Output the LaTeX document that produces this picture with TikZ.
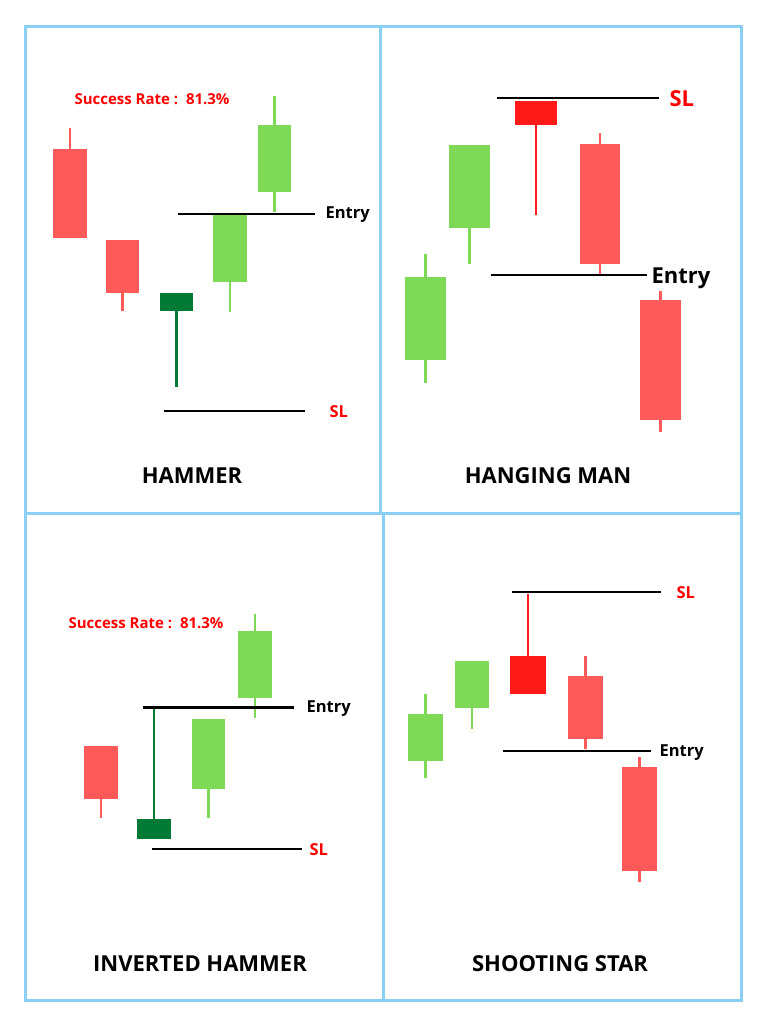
\documentclass[tikz,border=0pt]{standalone}
\usepackage{fontspec}
\setmainfont{Open Sans}
\definecolor{cred}{HTML}{FF5A5A}
\definecolor{pred}{HTML}{FF1A1A}
\definecolor{cgreen}{HTML}{7ED957}
\definecolor{dgreen}{HTML}{007A35}
\definecolor{bord}{HTML}{8CCFF5}
\tikzset{
  title/.style={font=\bfseries\fontsize{22}{26}\selectfont},
  lab/.style={font=\bfseries\fontsize{16.5}{19}\selectfont},
  biglab/.style={font=\bfseries\fontsize{22}{26}\selectfont},
  slab/.style={font=\bfseries\fontsize{15}{17}\selectfont, text=red},
}
% candle: x1,x2,ytop,ybot,wick top,wick bot,color
\newcommand{\cdl}[7]{%
  \draw[#7, line width=2.5pt] ({(#1+#2)/2},#5) -- ({(#1+#2)/2},#6);
  \fill[#7] (#1,#3) rectangle (#2,#4);}
\begin{document}
\begin{tikzpicture}[x=1pt,y=-1pt]
\useasboundingbox (0,0) rectangle (768,1024);
\fill[white] (0,0) rectangle (768,1024);
% borders
\draw[bord, line width=3pt] (25,27) rectangle (741,1000);
\draw[bord, line width=3pt] (380,27) -- (380,513);
\draw[bord, line width=3pt] (383,513) -- (383,1000);
\draw[bord, line width=3pt] (25,513) -- (741,513);
% top-left
\cdl{53}{87}{149}{238}{128}{238}{cred}
\cdl{106}{139}{240}{293}{240}{311}{cred}
\cdl{160}{193}{293}{311}{293}{387}{dgreen}
\cdl{213}{247}{215}{282}{215}{312}{cgreen}
\cdl{258}{291}{125}{192}{96}{212}{cgreen}
\coordinate (e1a) at (178,214); \coordinate (e1b) at (315,214);
\draw[line width=2pt] (e1a) -- (e1b);
\node[lab, anchor=west] (e1) at (322,215) {Entry};
\coordinate (s1a) at (164,411); \coordinate (s1b) at (305,411);
\draw[line width=2pt] (s1a) -- (s1b);
\node[lab, anchor=west, text=red] (s1) at (326,412) {SL};
\node[slab] (r1) at (152,99) {Success Rate :\ \ 81.3\%};
\node[title] (t1) at (192,476) {HAMMER};
% top-right
\cdl{405}{446}{277}{360}{254}{383}{cgreen}
\cdl{449}{490}{145}{228}{145}{264}{cgreen}
\cdl{515}{557}{101}{125}{101}{215}{pred}
\cdl{580}{620}{144}{264}{133}{275}{cred}
\cdl{640}{681}{300}{420}{291}{432}{cred}
\coordinate (s2a) at (497,98); \coordinate (s2b) at (659,98);
\draw[line width=2pt] (s2a) -- (s2b);
\node[biglab, text=red, anchor=west] (s2) at (666,99) {SL};
\coordinate (e2a) at (491,275); \coordinate (e2b) at (647,275);
\draw[line width=2pt] (e2a) -- (e2b);
\node[biglab, anchor=west] (e2) at (648,278) {Entry};
\node[title] (t2) at (548,476) {HANGING MAN};
% bottom-left
\cdl{84}{118}{746}{799}{746}{818}{cred}
\cdl{137}{171}{819}{839}{708}{839}{dgreen}
\cdl{192}{225}{719}{789}{719}{818}{cgreen}
\cdl{238}{272}{631}{698}{614}{718}{cgreen}
\coordinate (e3a) at (143,707); \coordinate (e3b) at (294,707);
\draw[line width=3pt] (e3a) -- (e3b);
\node[lab, anchor=west] (e3) at (303,709) {Entry};
\coordinate (s3a) at (152,849); \coordinate (s3b) at (302,849);
\draw[line width=2pt] (s3a) -- (s3b);
\node[lab, anchor=west, text=red] (s3) at (306,850) {SL};
\node[slab] (r3) at (146,623) {Success Rate :\ \ 81.3\%};
\node[title] (t3) at (200,964) {INVERTED HAMMER};
% bottom-right
\cdl{408}{443}{714}{761}{694}{778}{cgreen}
\cdl{455}{489}{661}{708}{661}{729}{cgreen}
\cdl{510}{546}{656}{694}{594}{694}{pred}
\cdl{568}{603}{676}{739}{656}{749}{cred}
\cdl{622}{657}{767}{871}{757}{882}{cred}
\coordinate (s4a) at (512,592); \coordinate (s4b) at (661,592);
\draw[line width=1.2pt] (s4a) -- (s4b);
\node[lab, anchor=west, text=red] (s4) at (673,593) {SL};
\coordinate (e4a) at (503,751); \coordinate (e4b) at (651,751);
\draw[line width=1.2pt] (e4a) -- (e4b);
\node[lab, anchor=west] (e4) at (656,753) {Entry};
\node[title] (t4) at (560,964) {SHOOTING STAR};
\end{tikzpicture}
\end{document}
